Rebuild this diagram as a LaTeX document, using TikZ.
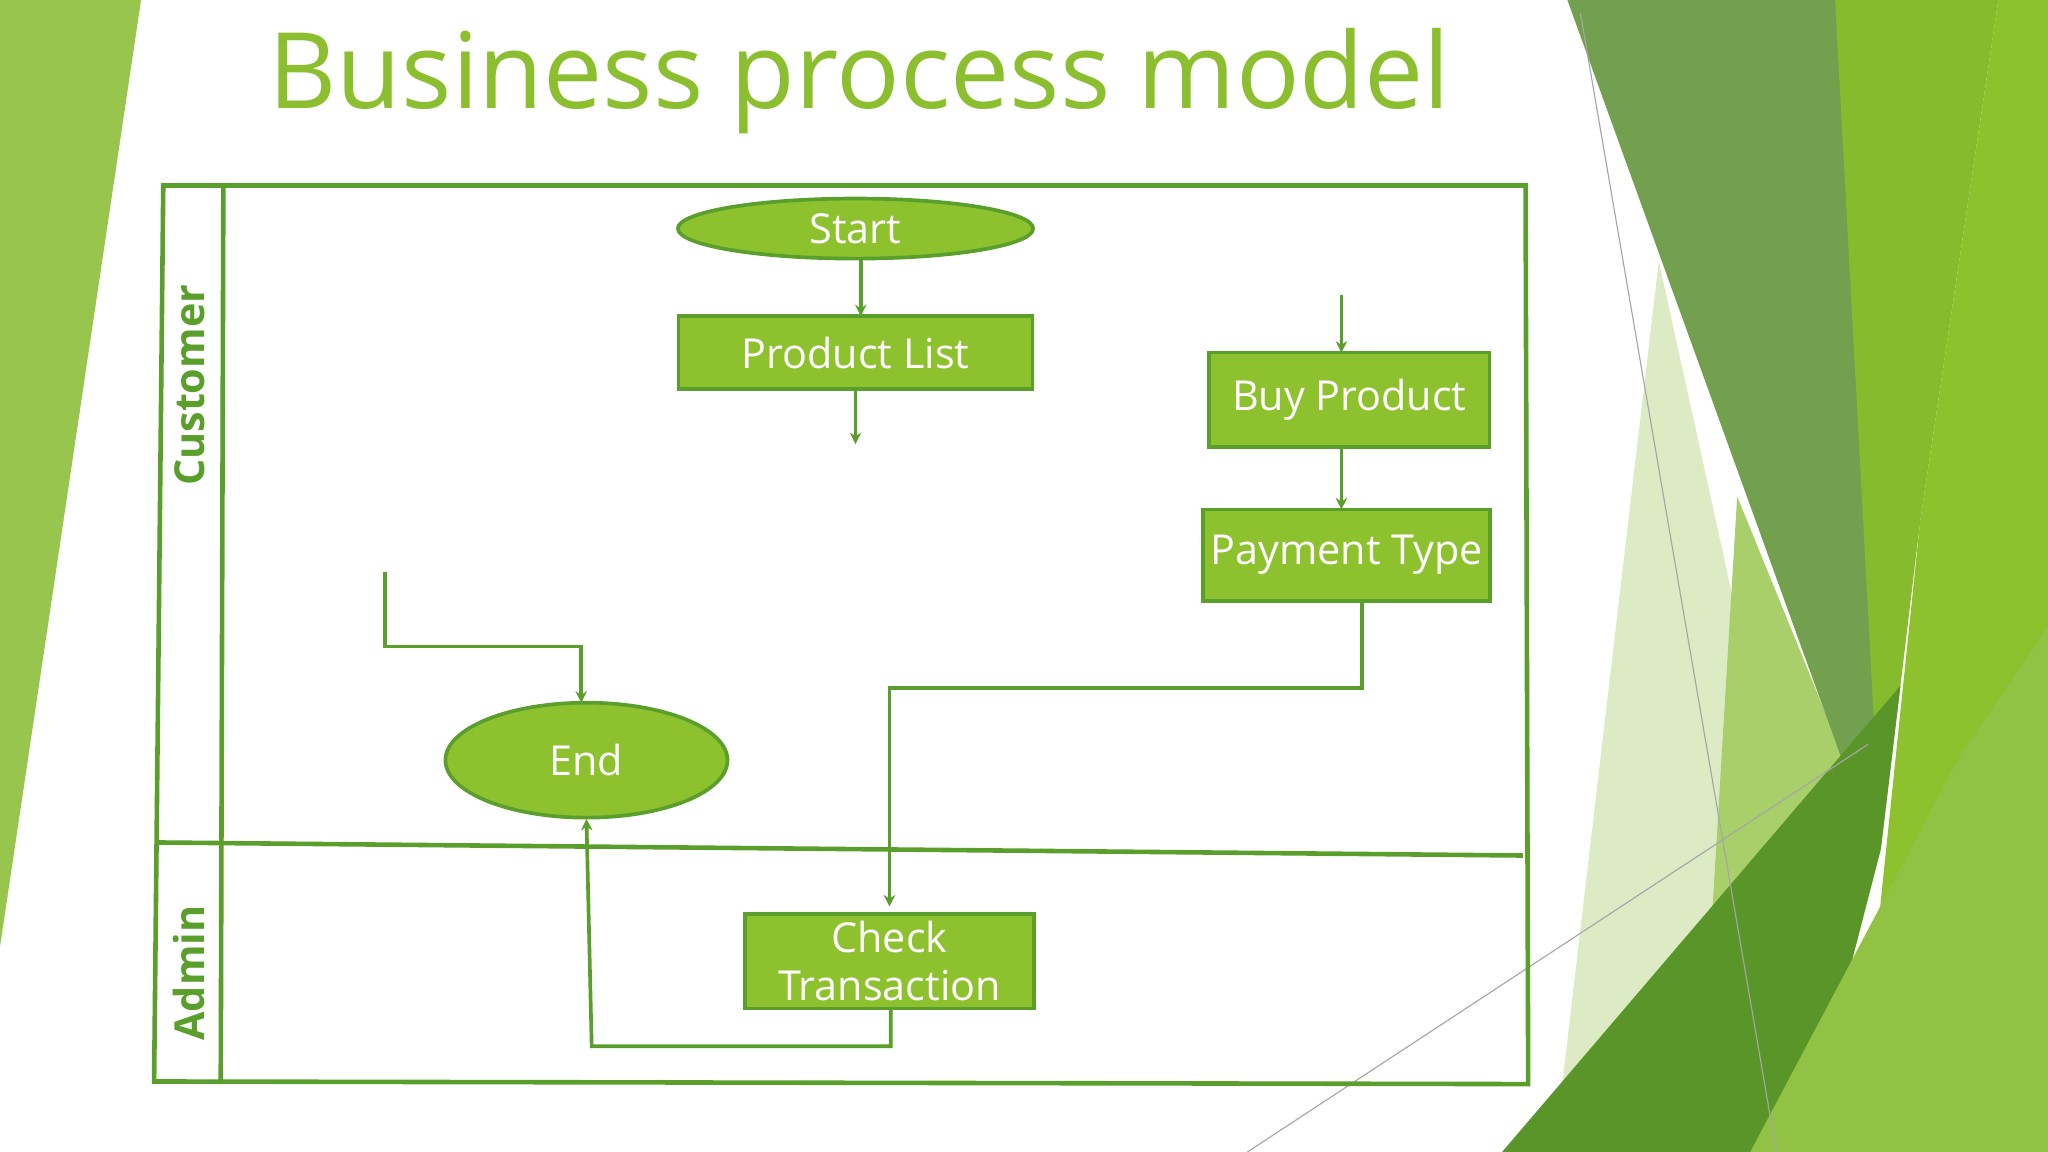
\documentclass[tikz,border=0pt]{standalone}
\usepackage{fontspec}
\setmainfont{Open Sans}
\usetikzlibrary{shapes.geometric,arrows.meta}
\definecolor{gfill}{HTML}{8DC22E}
\definecolor{gline}{HTML}{5A9E2C}
\definecolor{gtitle}{HTML}{8CBF30}
\definecolor{dkol}{HTML}{72A04E}
\definecolor{brg}{HTML}{86BB2E}
\definecolor{pale}{HTML}{DCEBC4}
\definecolor{mid}{HTML}{A8CF6A}
\definecolor{dk2}{HTML}{4E8C26}
\begin{document}
\begin{tikzpicture}[x=0.02cm,y=-0.02cm,
  box/.style={draw=gline,line width=1.6pt,fill=gfill,text=white,font=\fontsize{18}{21}\selectfont,inner sep=0pt,align=center},
  con/.style={draw=gline,line width=1.6pt},
  arr/.style={con,-{Stealth[length=5pt,width=5pt]}}]
\useasboundingbox (0,0) rectangle (1568,882);
% background
\fill[brg!85] (0,0)--(108,0)--(0,725)--cycle;
\fill[pale] (1270,200)--(1420,882)--(1190,882)--cycle;
\fill[mid] (1330,380)--(1440,650)--(1380,882)--(1300,882)--cycle;
\fill[dkol] (1200,0)--(1420,0)--(1470,400)--(1435,650)--cycle;
\fill[brg] (1405,0)--(1530,0)--(1470,400)--(1440,650)--cycle;
\fill[gfill] (1530,0)--(1568,0)--(1568,882)--(1420,882)--(1470,400)--cycle;
\fill[dk2!80!brg] (1150,882)--(1455,525)--(1440,650)--(1380,882)--cycle;
\fill[brg!90!white] (1340,882)--(1500,580)--(1568,480)--(1568,882)--cycle;
\draw[gray!70,line width=0.5pt] (1210,10)--(1360,882);
\draw[gray!70,line width=0.5pt] (955,882)--(1430,570);
% title
\node[text=gtitle,font=\fontsize{46}{50}\selectfont] (title) at (658,62) {Business process model};
% lanes
\draw[con,line width=2pt] (125,142)--(1168,142)--(1170,830)--(118,828)--cycle;
\draw[con,line width=2pt] (171,142)--(169,830);
\draw[con,line width=2pt] (120,645)--(1166,655);
\node[text=gline,rotate=90,font=\fontsize{18}{21}\selectfont\bfseries] (cust) at (145,295) {Customer};
\node[text=gline,rotate=90,font=\fontsize{18}{21}\selectfont\bfseries] (adm) at (145,745) {Admin};
% nodes
\node[box,ellipse,minimum width=272*0.02cm,minimum height=46*0.02cm] (start) at (655,175) {Start};
\node[box,minimum width=271*0.02cm,minimum height=56*0.02cm] (pl) at (655,270) {Product List};
\node[box,minimum width=215*0.02cm,minimum height=72*0.02cm] (buy) at (1033,306) {Buy Product};
\node[box,minimum width=220*0.02cm,minimum height=70*0.02cm] (pay) at (1031,425) {Payment Type};
\node[box,ellipse,minimum width=216*0.02cm,minimum height=88*0.02cm] (end) at (449,582) {End};
\node[box,minimum width=221*0.02cm,minimum height=72*0.02cm,text width=200*0.02cm,font=\fontsize{18}{21}\selectfont] (chk) at (681,736) {Check\\Transaction};
% connectors
\coordinate (plo) at (655,340);
\coordinate (buyin) at (1027,226);
\coordinate (fr) at (295,438);
\draw[arr] (659,198) -- (659,242);
\draw[arr] (655,298) -- (plo);
\draw[arr] (buyin) -- (1027,270);
\draw[arr] (1027,342) -- (1027,390);
\draw[arr] (1043,460) -- (1043,527) -- (681,527) -- (681,694);
\draw[arr] (fr) -- (295,495) -- (445,495) -- (445,538);
\draw[arr] (682,772) -- (682,801) -- (453,801) -- (449,627);
\end{tikzpicture}
\end{document}
